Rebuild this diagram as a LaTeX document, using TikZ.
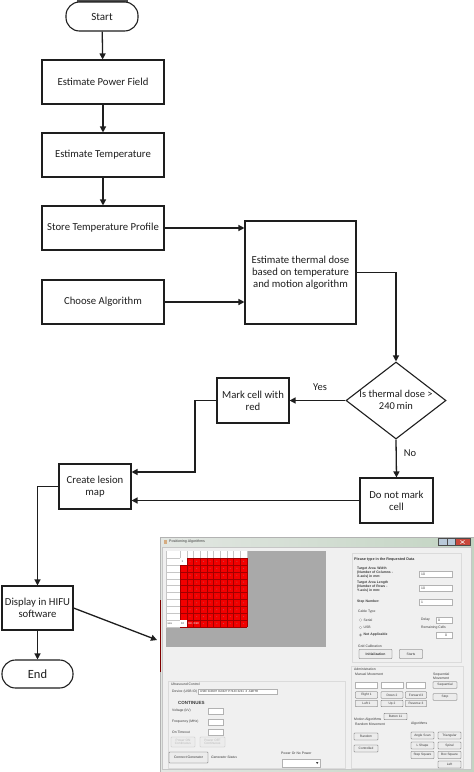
\documentclass[tikz,border=0pt]{standalone}
\usepackage{fontspec}
\setmainfont{Carlito}
\newfontfamily\ui{Liberation Sans}
\usetikzlibrary{shapes.geometric,arrows.meta,calc}
\definecolor{ln}{HTML}{1E1E1E}
\definecolor{frameL}{HTML}{E3E7E3}
\definecolor{frameR}{HTML}{C2D4C2}
\definecolor{client}{HTML}{F0F0F0}
\definecolor{panel}{HTML}{A9A9A9}
\definecolor{cellred}{HTML}{F20000}
\definecolor{cellline}{HTML}{A00000}
\definecolor{closebtn}{HTML}{C9483B}
\definecolor{ctlbtn}{HTML}{B9C9D9}
\definecolor{uitext}{HTML}{3A3A3A}
\begin{document}
\begin{tikzpicture}[x=1pt,y=-1pt,
  flow/.style={draw=ln,line width=1.1pt,fill=white,align=center,text=ln,
    font=\fontsize{10.7}{12}\selectfont,inner sep=0pt},
  term/.style={flow,rounded corners=13.5pt},
  arr/.style={draw=ln,line width=1.3pt,-{Triangle[length=6pt,width=6pt]}},
  lbl/.style={text=ln,font=\fontsize{10.5}{12}\selectfont,inner sep=0pt},
  tiny/.style={font=\ui\fontsize{3.4}{4.1}\selectfont,text=uitext,inner sep=0pt,anchor=west,align=left},
  tinyb/.style={font=\ui\bfseries\fontsize{3.4}{4.1}\selectfont,text=uitext,inner sep=0pt,anchor=west,align=left},
  tbox/.style={draw=gray!60,fill=white,line width=0.3pt},
  btn/.style={draw=gray!70!black,fill=gray!15,line width=0.3pt,rounded corners=0.6pt,
    font=\ui\fontsize{3.2}{3.6}\selectfont,text=uitext,inner sep=0pt,align=center,minimum height=6.5pt},
  grp/.style={draw=gray!28,line width=0.3pt}
]
\useasboundingbox (0,0) rectangle (474,772);
\fill[white] (0,0) rectangle (474,772);
% artefact at the top
\fill[gray!60!black] (77,0) rectangle (128,1.8);

% ---------------- flowchart nodes ----------------
\node[term,minimum width=72pt,minimum height=29pt,font=\fontsize{11}{12}\selectfont] (start) at (102,16.5) {Start};
\node[flow,minimum width=122pt,minimum height=44pt] (pf) at (103,82) {Estimate Power Field};
\node[flow,minimum width=122pt,minimum height=44pt] (et) at (103,155) {Estimate Temperature};
\node[flow,minimum width=122pt,minimum height=44pt] (stp) at (103,228) {Store Temperature Profile};
\node[flow,minimum width=122pt,minimum height=44pt] (ca) at (103,302) {Choose Algorithm};
\node[flow,minimum width=111pt,minimum height=103pt] (etd) at (300.5,272.5) {Estimate thermal dose\\based on temperature\\and motion algorithm};
\node[diamond,draw=ln,line width=1.1pt,fill=white,minimum width=100pt,minimum height=77pt,inner sep=0pt] (dia) at (396,400.5) {};
\node[lbl,align=center] (diat) at (396,400) {Is thermal dose >\\240\,min};
\node[flow,minimum width=72pt,minimum height=45pt] (mark) at (253,400.5) {Mark cell with\\red};
\node[flow,minimum width=73pt,minimum height=45pt] (dnm) at (396.5,500.5) {Do not mark\\cell};
\node[flow,minimum width=72pt,minimum height=45pt] (clm) at (95,486.5) {Create lesion\\map};
\node[flow,minimum width=71pt,minimum height=44pt] (disp) at (37.5,608) {Display in HIFU\\software};
\node[term,minimum width=71pt,minimum height=28pt,font=\fontsize{12.5}{14}\selectfont] (endn) at (37.5,674) {End};
\node[lbl] (yes) at (320,387) {Yes};
\node[lbl] (no) at (410,453) {No};

% ---------------- connectors ----------------
\coordinate (j1) at (195,472);
\coordinate (shot) at (157,640);
\draw[arr] (start) -- (pf);
\draw[arr] (pf) -- (et);
\draw[arr] (et) -- (stp);
\draw[arr] (stp.east) -- (stp.east -| etd.west);
\draw[arr] (ca.east) -- (ca.east -| etd.west);
\draw[arr] (etd.east) -| (dia.north);
\draw[arr] (dia.west) -- (mark.east);
\draw[arr] (dia.south) -- (dnm.north);
\draw[arr] (mark.west) -| (j1) -- (j1 -| clm.east);
\draw[arr] (dnm.west) -- (dnm.west -| clm.east);
\draw[arr] (clm.west) -| (disp.north);
\draw[arr] (disp) -- (endn);
\draw[arr] (disp.east) -- (shot);

% ---------------- software screenshot ----------------
\shade[left color=frameL,right color=frameR] (160,537) rectangle (474,772);
\draw[gray!60,line width=0.4pt] (160,537) rectangle (474,772);
\fill[client] (162.5,547) rectangle (471.5,769);
\draw[gray!45,line width=0.3pt] (162.5,547) rectangle (471.5,769);
\draw[cellline!80!black,line width=1.2pt] (160.6,600) -- (160.6,672);
% title bar
\fill[ctlbtn!60!orange] (164,540.2) rectangle (167,543.6);
\node[tiny,font=\ui\fontsize{3.6}{4}\selectfont] (title) at (169,542) {Positioning Algorithms};
\draw[gray!60!black,fill=ctlbtn,line width=0.3pt] (438,538.5) rectangle (447,545.5);
\draw[gray!60!black,fill=ctlbtn,line width=0.3pt] (447,538.5) rectangle (455,545.5);
\draw[gray!60!black,fill=closebtn,line width=0.3pt] (455,538.5) rectangle (470,545.5);
\draw[white,line width=0.5pt] (460.5,540.3) -- (464.5,543.7) (460.5,543.7) -- (464.5,540.3);

% grid panel
\fill[panel] (166,551) rectangle (326,647);
\fill[white] (166,551) rectangle (247,627);
\fill[cellred] (180,558) rectangle (247,627);
\foreach \i in {0,...,10}{
  \draw[gray!45,line width=0.25pt] ({180+6.7*\i},551) -- ({180+6.7*\i},558);
  \draw[cellline,line width=0.3pt] ({180+6.7*\i},558) -- ({180+6.7*\i},627);
  \draw[gray!45,line width=0.25pt] (166,{558+6.9*\i}) -- (180,{558+6.9*\i});
  \draw[cellline,line width=0.3pt] (180,{558+6.9*\i}) -- (247,{558+6.9*\i});
}
\foreach \i in {1,...,9}{\foreach \j in {0,...,9}{
  \fill[cellline!70] ({183.3+6.7*\i},{561.4+6.9*\j}) circle (0.55pt);}}
\draw[gray!45,line width=0.25pt] (166,551) -- (166,627);
\fill[white] (180.2,558.2) rectangle (186.5,564.7);
\node[tiny,font=\ui\fontsize{2.8}{3}\selectfont] (c1) at (181.5,561.5) {1};
\fill[white] (180.2,620.3) rectangle (186.5,626.8);
\node[tiny,font=\ui\fontsize{2.8}{3}\selectfont] (c10) at (180.8,623.6) {10};
\node[tiny,font=\ui\fontsize{2.8}{3}\selectfont] (sss) at (167.5,623.6) {sss};
\node[tiny,font=\ui\fontsize{2.8}{3}\selectfont,text=white] (cxx) at (188,623.6) {XX, XXX};

% right top panel
\draw[grp] (352,553) rectangle (461,662);
\node[tinyb,font=\ui\bfseries\fontsize{3.7}{4.2}\selectfont] (ptitle) at (354,560) {Please type in the Requested Data};
\node[tinyb] (taw) at (357,572.5) {Target Area\, Width\\(Number of Columns -\\X-axis) in mm:};
\draw[tbox] (419,571) rectangle (452,577);
\node[tiny] (v1) at (421,574) {10};
\node[tinyb] (tal) at (357,587) {Target Area Length\\(Number of Rows -\\Y-axis) in mm:};
\draw[tbox] (419,585.5) rectangle (452,591.5);
\node[tiny] (v2) at (421,588.5) {10};
\node[tinyb] (stn) at (357,602) {Step Number:};
\draw[tbox] (419,599) rectangle (452,605);
\node[tiny] (v3) at (421,602) {1};
\node[tiny] (cab) at (358,612) {Cable Type};
\draw[gray!60,fill=white,line width=0.3pt] (360.5,620) circle (1.3pt);
\node[tiny] (ser) at (363.5,620) {Serial};
\draw[gray!60,fill=white,line width=0.3pt] (360.5,627.5) circle (1.3pt);
\node[tiny] (usb) at (363.5,627.5) {USB};
\draw[gray!60,fill=white,line width=0.3pt] (360.5,635) circle (1.3pt);
\fill[uitext] (360.5,635) circle (0.6pt);
\node[tinyb] (na) at (363.5,635) {Not Applicable};
\node[tiny] (del) at (421,620) {Delay};
\draw[tbox] (436,617) rectangle (452,623);
\node[tiny] (v4) at (438,620) {0};
\node[tiny] (rem) at (421,628) {Remaining Cells};
\draw[tbox] (436,632) rectangle (452,638);
\node[tiny] (v5) at (445,635) {0};
\node[tiny] (gcal) at (358,646.5) {Grid Calibration};
\node[btn,minimum width=33pt,minimum height=9pt,font=\ui\bfseries\fontsize{3.4}{4}\selectfont] (init) at (375.5,654) {Initialization};
\node[btn,minimum width=23pt,minimum height=9pt,font=\ui\fontsize{3.4}{4}\selectfont] (starts) at (411,654) {Starts};

% administration panel
\draw[grp] (351,666) rectangle (463,768.5);
\node[tiny] (adm) at (354,669) {Administration};
\node[tiny] (man) at (355,674) {Manual Movement};
\node[tiny] (seq) at (433,676) {Sequential\\Movement};
\draw[tbox] (355,682) rectangle (377,688);
\draw[tbox] (381,682) rectangle (403,688);
\draw[tbox] (406,682) rectangle (425,688);
\node[btn,minimum width=24pt] (bseq) at (445,685) {Sequential};
\node[btn,minimum width=22pt] (r1) at (366.5,695) {Right 1};
\node[btn,minimum width=22pt] (d2) at (392,695) {Down 2};
\node[btn,minimum width=21pt] (f3) at (416,695) {Forward 3};
\node[btn,minimum width=24pt] (stop) at (445,697) {Stop};
\node[btn,minimum width=22pt] (l1) at (366.5,703.5) {Left 1};
\node[btn,minimum width=22pt] (u2) at (392,703.5) {Up 2};
\node[btn,minimum width=21pt] (rv3) at (416,703.5) {Reverse 3};
\node[btn,minimum width=23pt] (b11) at (395.5,716.5) {Button 11};
\node[tiny] (mot) at (354,720) {Motion Algorithms};
\node[tiny] (rnd) at (355,724) {Random Movement};
\node[tiny] (alg) at (411,724) {Algorithms};
\node[btn,minimum width=24pt,minimum height=7pt] (brand) at (366,736.5) {Random};
\node[btn,minimum width=24pt,minimum height=7pt] (bctl) at (366,748.5) {Controlled};
\node[btn,minimum width=23pt,minimum height=7pt] (ang) at (422.5,735.5) {Angle Scan};
\node[btn,minimum width=23pt,minimum height=7pt] (tri) at (449.5,735.5) {Triangular};
\node[btn,minimum width=23pt,minimum height=7pt] (lsh) at (422.5,745.5) {L Shape};
\node[btn,minimum width=23pt,minimum height=7pt] (spi) at (449.5,745.5) {Spiral};
\node[btn,minimum width=23pt,minimum height=7pt] (sqs) at (422.5,755) {Step Square};
\node[btn,minimum width=23pt,minimum height=7pt] (boxs) at (449.5,755) {Box Square};
\node[btn,minimum width=23pt,minimum height=7pt] (lft) at (449.5,764.5) {Left};

% ultrasound control panel
\draw[grp] (168,681) rectangle (345,768.5);
\node[tiny] (usc) at (171,684) {Ultrasound Control};
\node[tiny] (dev) at (172,692) {Device (USB ID)};
\draw[tbox] (198,689) rectangle (277,694.5);
\node[tiny,font=\ui\fontsize{2.9}{3.2}\selectfont] (devid) at (200,691.8) {USB\textbackslash\ 0x0907 0x0427 P7443 3241 .3 .A9ETR};
\node[tinyb,font=\ui\bfseries\fontsize{4.5}{5}\selectfont] (cont) at (178,703) {CONTINUES};
\node[tiny] (volt) at (172,711) {Voltage (kV)};
\draw[tbox] (208,708.5) rectangle (223,714);
\node[tiny] (freq) at (172,722) {Frequency (MHz)};
\draw[tbox] (208,719) rectangle (223,725);
\node[tiny] (ont) at (172,732) {On Timeout};
\draw[tbox] (208,729) rectangle (223,735);
\node[btn,minimum width=24pt,minimum height=10pt,text=gray!55,draw=gray!50] (pon) at (183,742) {Power ON\\Continuous};
\node[btn,minimum width=25pt,minimum height=10pt,text=gray!55,draw=gray!50] (poff) at (212.5,742) {Power OFF\\Continuous};
\node[btn,minimum width=39pt,minimum height=11pt,font=\ui\fontsize{3.4}{4}\selectfont] (cgen) at (188.5,757.5) {Connect Generator};
\node[tiny,font=\ui\itshape\fontsize{3.4}{4}\selectfont] (gstat) at (211,757.5) {Generator Status};
\node[tiny] (pwr) at (281,753) {Power Or No Power};
\draw[tbox] (282,759) rectangle (320,767);
\fill[uitext] (316,762) -- (318.4,762) -- (317.2,764) -- cycle;
\end{tikzpicture}
\end{document}
